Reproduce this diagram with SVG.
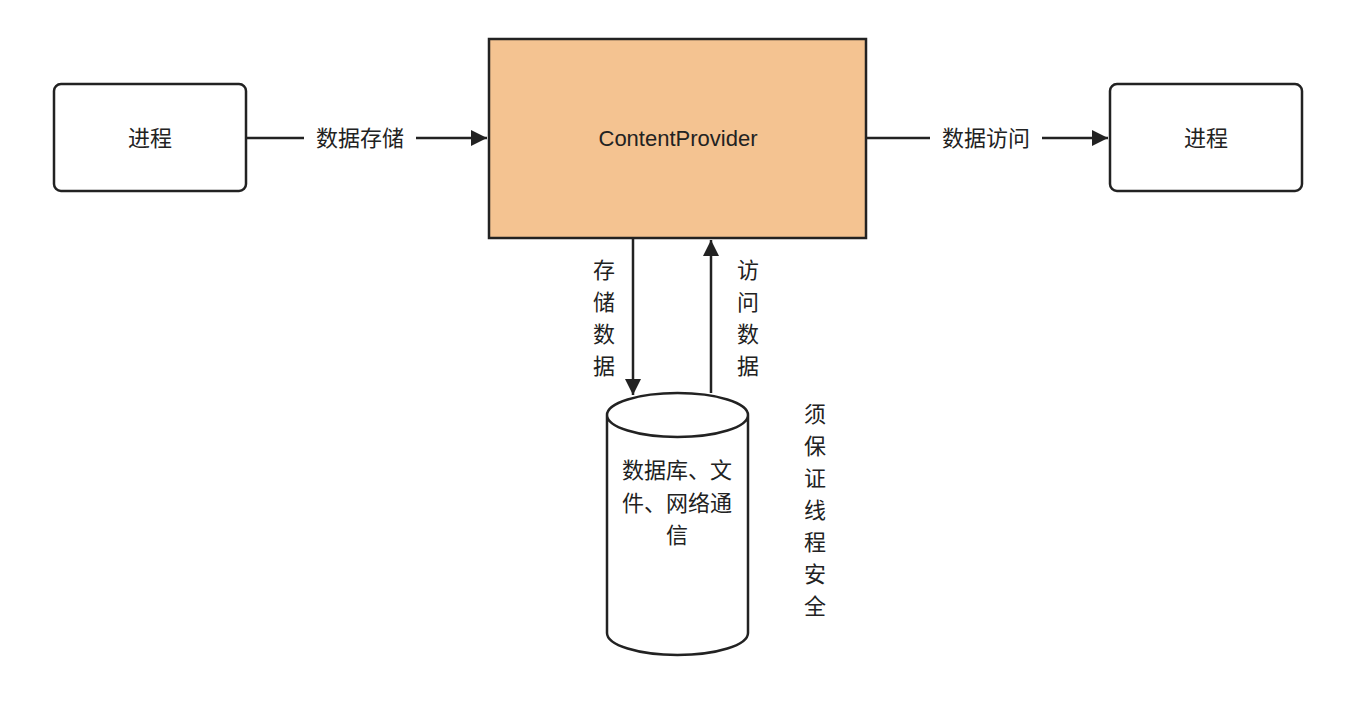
<svg xmlns="http://www.w3.org/2000/svg" width="1372" height="726" viewBox="0 0 1372 726">
<style>
.box{fill:#fff;stroke:#222;stroke-width:2.5}
.t{font-family:"Liberation Sans","Noto Sans CJK SC",sans-serif;font-size:22px;fill:#222;text-anchor:middle;dominant-baseline:central}
.c{stroke:#222;stroke-width:2.5;fill:none}
</style>
<defs><marker id="a" markerWidth="10" markerHeight="10" refX="9" refY="5" orient="auto" markerUnits="userSpaceOnUse"><path d="M0,0 L10,5 L0,10 Z" fill="#222"/></marker>
<marker id="b" viewBox="0 0 10 10" markerWidth="20" markerHeight="16" refX="10" refY="5" orient="auto" markerUnits="userSpaceOnUse"><path d="M0,0 L10,5 L0,10 Z" fill="#222"/></marker></defs>
<rect width="1372" height="726" fill="#fff"/>
<g id="n1"><rect class="box" x="54" y="84" width="192" height="107" rx="7"/><text class="t" x="150" y="138">进程</text></g>
<g id="n2"><rect x="489" y="39" width="377" height="199" fill="#F4C391" stroke="#222" stroke-width="2.5"/><text class="t" x="678" y="138">ContentProvider</text></g>
<g id="n3"><rect class="box" x="1110" y="84" width="192" height="107" rx="7"/><text class="t" x="1206" y="138">进程</text></g>
<g id="n4"><path class="box" d="M607,415 L607,633 A70.5,22 0 0 0 748,633 L748,415 A70.5,22 0 0 0 607,415 A70.5,22 0 0 0 748,415"/>
<text class="t" x="677" y="470">数据库、文</text><text class="t" x="677" y="503">件、网络通</text><text class="t" x="677" y="535">信</text></g>
<g id="n5"><text class="t" x="815" y="414">须</text><text class="t" x="815" y="446">保</text><text class="t" x="815" y="478">证</text><text class="t" x="815" y="510">线</text><text class="t" x="815" y="542">程</text><text class="t" x="815" y="574">安</text><text class="t" x="815" y="606">全</text></g>
<g id="edges">
<line class="c" x1="246" y1="138" x2="487" y2="138" marker-end="url(#b)"/>
<rect x="304" y="124" width="112" height="28" fill="#fff"/><text class="t" x="360" y="138">数据存储</text>
<line class="c" x1="866" y1="138" x2="1108" y2="138" marker-end="url(#b)"/>
<rect x="930" y="124" width="112" height="28" fill="#fff"/><text class="t" x="986" y="138">数据访问</text>
<line class="c" x1="633" y1="238" x2="633" y2="395" marker-end="url(#b)"/>
<line class="c" x1="711" y1="393" x2="711" y2="240" marker-end="url(#b)"/>
<text class="t" x="604" y="270">存</text><text class="t" x="604" y="302">储</text><text class="t" x="604" y="334">数</text><text class="t" x="604" y="366">据</text>
<text class="t" x="748" y="270">访</text><text class="t" x="748" y="302">问</text><text class="t" x="748" y="334">数</text><text class="t" x="748" y="366">据</text>
</g>
</svg>
